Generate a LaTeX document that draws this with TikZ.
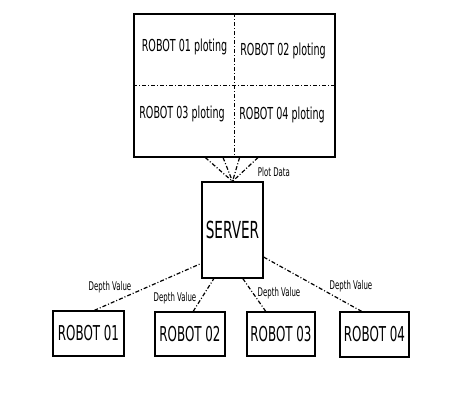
\documentclass[tikz,border=0pt]{standalone}
\usepackage{fontspec}
\setmainfont{DejaVu Sans}[FakeStretch=0.58]
\usepackage{tikz}

\begin{document}
\begin{tikzpicture}[x=1pt, y=-1pt, line width=1.2pt,
    box/.style = {draw, rectangle, inner sep=0pt},
    robot/.style = {box, minimum width=70pt, minimum height=45pt, font=\fontsize{20.5}{24}\selectfont},
    plot/.style = {font=\fontsize{16.5}{20}\selectfont},
    small/.style = {font=\fontsize{12}{14}\selectfont},
    link/.style = {dash pattern=on 4pt off 2pt on 1pt off 2pt}]
    \useasboundingbox (0,0) rectangle (474,409);
    % display with the four plots
    \node[box, minimum width=201pt, minimum height=143pt] (display) at (234.5,85.5) {};
    \draw[link, line width=1pt] (display.north) -- (display.south);
    \draw[link, line width=1pt] (display.west) -- (display.east);
    \node[plot] (p1) at (184.5,47) {ROBOT 01 ploting};
    \node[plot] (p2) at (283,51) {ROBOT 02 ploting};
    \node[plot] (p3) at (182,114) {ROBOT 03 ploting};
    \node[plot] (p4) at (282,115) {ROBOT 04 ploting};
    % server
    \node[box, minimum width=61pt, minimum height=96pt, font=\fontsize{23.5}{28}\selectfont] (server) at (232.5,230) {SERVER};
    \draw[link] (display.-112) -- (server.north);
    \draw[link] (display.-99) -- (server.north);
    \draw[link] (display.-86) -- (server.north);
    \draw[link] (display.-72) -- (server.north);
    \node[small, anchor=west] (plotdata) at (254,172) {Plot Data};
    % robots
    \node[robot, minimum width=71pt] (r1) at (88.5,333.5) {ROBOT 01};
    \node[robot, minimum height=44pt] (r2) at (190,334) {ROBOT 02};
    \node[robot, minimum width=68pt, minimum height=44pt] (r3) at (281,334) {ROBOT 03};
    \node[robot, minimum width=69pt] (r4) at (374.5,334.5) {ROBOT 04};
    \draw[link] (r1.76) -- (server.-133);
    \draw[link] (r2.82) -- (server.-111);
    \draw[link] (r3.124) -- (server.-78);
    \draw[link] (r4.119) -- (server.-41);
    \node[small] (d1) at (110,287) {Depth Value};
    \node[small] (d2) at (175,298) {Depth Value};
    \node[small] (d3) at (279,293) {Depth Value};
    \node[small] (d4) at (351,286) {Depth Value};
\end{tikzpicture}
\end{document}
